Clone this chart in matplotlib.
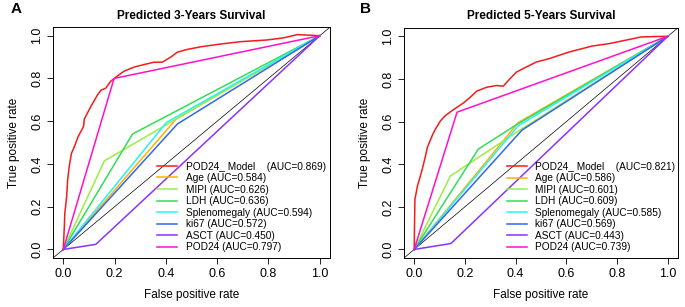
import matplotlib
matplotlib.use("Agg")
import matplotlib.pyplot as plt

plt.rcParams['font.family'] = ['Liberation Sans', 'DejaVu Sans']

# ---- panel A: 3-year ROC ----
a_model_fpr = [0, 0.004, 0.006, 0.013, 0.017, 0.023, 0.032, 0.043, 0.058, 0.079, 0.082, 0.108,
               0.134, 0.147, 0.166, 0.185, 0.205, 0.237, 0.276, 0.315, 0.354, 0.386, 0.419,
               0.445, 0.484, 0.536, 0.60, 0.691, 0.795, 0.86, 0.912, 1.0]
a_model_tpr = [0, 0.105, 0.168, 0.246, 0.324, 0.387, 0.45, 0.48, 0.528, 0.575, 0.61, 0.67,
               0.724, 0.745, 0.755, 0.787, 0.806, 0.834, 0.853, 0.865, 0.876, 0.876, 0.90,
               0.923, 0.936, 0.948, 0.959, 0.972, 0.98, 0.99, 1.005, 1.0]
a_age = ([0, 0.44, 1], [0, 0.61, 1])
a_mipi = ([0, 0.16, 0.44, 1], [0, 0.414, 0.61, 1])
a_ldh = ([0, 0.27, 1], [0, 0.54, 1])
a_spleno = ([0, 0.402, 1], [0, 0.594, 1])
a_ki67 = ([0, 0.445, 1], [0, 0.587, 1])
a_asct = ([0, 0.127, 1], [0, 0.024, 1])
a_pod24 = ([0, 0.198, 1], [0, 0.80, 1])
a_auc = [0.869, 0.584, 0.626, 0.636, 0.594, 0.572, 0.450, 0.797]

# ---- panel B: 5-year ROC ----
b_model_fpr = [0, 0.003, 0.013, 0.019, 0.032, 0.045, 0.052, 0.071, 0.084, 0.104, 0.123, 0.149,
               0.169, 0.195, 0.221, 0.247, 0.286, 0.325, 0.351, 0.377, 0.403, 0.442, 0.481,
               0.532, 0.61, 0.701, 0.766, 0.831, 0.896, 1.0]
b_model_tpr = [0, 0.235, 0.298, 0.322, 0.377, 0.44, 0.479, 0.534, 0.565, 0.604, 0.628, 0.651,
               0.667, 0.688, 0.714, 0.743, 0.761, 0.769, 0.766, 0.80, 0.832, 0.856, 0.879,
               0.895, 0.926, 0.954, 0.965, 0.981, 0.997, 1.0]
b_age = ([0, 0.41, 1], [0, 0.595, 1])
b_mipi = ([0, 0.143, 0.41, 1], [0, 0.345, 0.555, 1])
b_ldh = ([0, 0.253, 0.403, 1], [0, 0.471, 0.585, 1])
b_spleno = ([0, 0.41, 1], [0, 0.58, 1])
b_ki67 = ([0, 0.425, 1], [0, 0.56, 1])
b_asct = ([0, 0.145, 1], [0, 0.028, 1])
b_pod24 = ([0, 0.169, 1], [0, 0.644, 1])
b_auc = [0.821, 0.586, 0.601, 0.609, 0.585, 0.569, 0.443, 0.739]

names = ["Age", "MIPI", "LDH", "Splenomegaly", "ki67", "ASCT", "POD24"]
colors = ["#f21c1c", "#ffb000", "#99ee44", "#33dd55", "#22f5f5", "#3366ee", "#8833ff", "#ff10cc"]
ticks = [0.0, 0.2, 0.4, 0.6, 0.8, 1.0]
tick_labels = ["0.0", "0.2", "0.4", "0.6", "0.8", "1.0"]

fig = plt.figure(figsize=(6.85, 3.07), dpi=100)
ax_a = fig.add_axes([0.0774, 0.1596, 0.4044, 0.752])
ax_b = fig.add_axes([0.5898, 0.1596, 0.40, 0.750])


def draw_panel(ax, title, fpr, tpr, others, auc):
    ax.plot([-0.1, 1.1], [-0.1, 1.1], color="black", lw=0.5, zorder=1)
    ax.plot(fpr, tpr, color=colors[0], lw=1.1,
            label="POD24_ Model    (AUC=%.3f)" % auc[0])
    for i, (xs, ys) in enumerate(others):
        ax.plot(xs, ys, color=colors[i + 1], lw=1.1,
                label="%s (AUC=%.3f)" % (names[i], auc[i + 1]))
    ax.set_xlim(-0.04, 1.04)
    ax.set_ylim(-0.04, 1.04)
    ax.set_xticks(ticks)
    ax.set_xticklabels(tick_labels)
    ax.set_yticks(ticks)
    ax.set_yticklabels(tick_labels, rotation=90, va="center")
    ax.tick_params(labelsize=9, length=4, width=0.6, pad=3)
    for s in ax.spines.values():
        s.set_linewidth(0.7)
    ax.set_xlabel("False positive rate", fontsize=8.5, labelpad=7)
    ax.set_ylabel("True positive rate", fontsize=8.5, labelpad=8)
    ax.set_title(title, fontsize=8.5, fontweight="bold", pad=6)
    ax.legend(loc="upper left", bbox_to_anchor=(0.376, 0.418), frameon=False,
              fontsize=7.3, handlelength=2.0, handletextpad=0.8,
              labelspacing=0.15, borderpad=0, borderaxespad=0)


draw_panel(ax_a, "Predicted 3-Years Survival", a_model_fpr, a_model_tpr,
           [a_age, a_mipi, a_ldh, a_spleno, a_ki67, a_asct, a_pod24], a_auc)
draw_panel(ax_b, "Predicted 5-Years Survival", b_model_fpr, b_model_tpr,
           [b_age, b_mipi, b_ldh, b_spleno, b_ki67, b_asct, b_pod24], b_auc)

fig.text(11 / 685, 1 - 2 / 307, "A", fontsize=11, fontweight="bold", va="top")
fig.text(360 / 685, 1 - 2 / 307, "B", fontsize=11, fontweight="bold", va="top")

fig.savefig("out.png", dpi=100)
